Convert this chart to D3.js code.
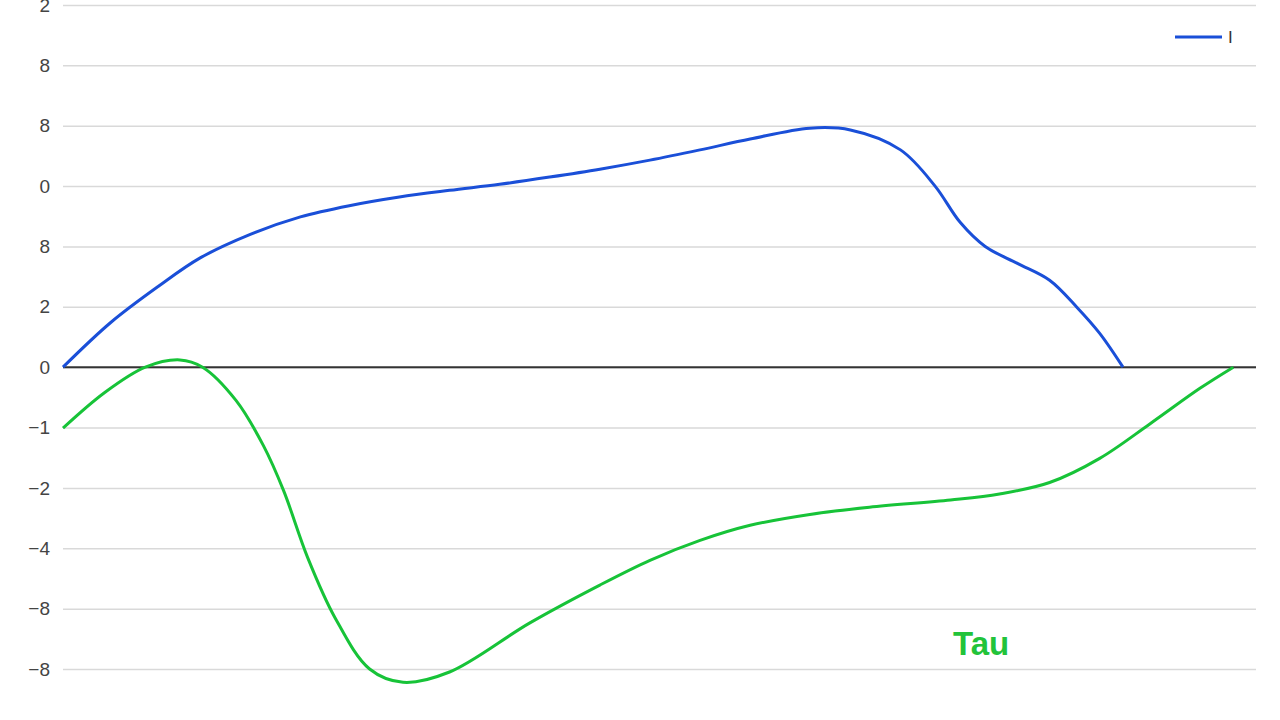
<!DOCTYPE html>
<html>
<head>
<meta charset="utf-8">
<script src="https://cdn.jsdelivr.net/npm/d3@7/dist/d3.min.js"></script>
<style>
  html, body { margin: 0; padding: 0; background: #fff; }
  svg { display: block; font-family: "Liberation Sans", Arial, sans-serif; }
</style>
</head>
<body>
<svg id="chart" width="1280" height="720"></svg>
<script>
// tick positions and the labels printed next to them
const tickValues = [6, 5, 4, 3, 2, 1, 0, -1, -2, -3, -4, -5];
const tickLabels = ["2", "8", "8", "0", "8", "2", "0", "\u22121", "\u22122", "\u22124", "\u22128", "\u22128"];

// blue series ("I")
const blueX = [0, 40, 80, 115, 157, 199, 241, 282, 324, 366, 408, 450, 492, 534, 576, 626, 660, 702, 731, 752, 773, 800, 827, 850, 869, 888.5];
const blueY = [0, 0.74, 1.34, 1.81, 2.20, 2.49, 2.68, 2.82, 2.93, 3.03, 3.15, 3.28, 3.43, 3.60, 3.78, 3.96, 3.93, 3.60, 3.00, 2.40, 2.00, 1.72, 1.44, 0.99, 0.56, 0];

// green series ("Tau")
const greenX = [0, 35, 69, 98, 117, 145, 168, 185, 205, 228, 257, 285, 324, 391, 450, 492, 534, 576, 626, 676, 744, 785, 827, 869, 911, 953, 981];
const greenY = [-1.01, -0.42, 0, 0.12, 0, -0.55, -1.30, -2.05, -3.15, -4.15, -5.00, -5.22, -5.05, -4.24, -3.61, -3.20, -2.87, -2.62, -2.44, -2.32, -2.20, -2.10, -1.91, -1.51, -0.94, -0.35, 0];

const legendLabel = "I";
const tauLabel = "Tau";

const svg = d3.select("#chart");
const W = 1280, H = 720;
const left = 63, right = 1256;

const x = d3.scaleLinear().domain([0, 1000]).range([left, right]);
const y = d3.scaleLinear().domain([-5.845, 6.083]).range([H, 0]);

// grid
const yAxis = d3.axisLeft(y)
  .tickValues(tickValues)
  .tickSize(-(right - left))
  .tickPadding(13)
  .tickFormat((d, i) => tickLabels[i]);

const gAxis = svg.append("g")
  .attr("transform", `translate(${left},0)`)
  .call(yAxis);
gAxis.select(".domain").remove();
gAxis.selectAll(".tick line").attr("stroke", "#d9d9d9").attr("stroke-width", 1.5);
gAxis.selectAll(".tick text")
  .attr("fill", "#444")
  .style("font-size", "19px");

// zero line
svg.append("line")
  .attr("x1", left).attr("x2", right)
  .attr("y1", y(0)).attr("y2", y(0))
  .attr("stroke", "#333").attr("stroke-width", 2);

const line = d3.line()
  .x(d => x(d[0]))
  .y(d => y(d[1]))
  .curve(d3.curveCatmullRom.alpha(0.5));

svg.append("path")
  .datum(d3.zip(greenX, greenY))
  .attr("fill", "none")
  .attr("stroke", "#17c338")
  .attr("stroke-width", 3)
  .attr("d", line);

svg.append("path")
  .datum(d3.zip(blueX, blueY))
  .attr("fill", "none")
  .attr("stroke", "#1a4fd8")
  .attr("stroke-width", 3)
  .attr("d", line);

// legend
svg.append("line")
  .attr("x1", 1175).attr("x2", 1222)
  .attr("y1", 37).attr("y2", 37)
  .attr("stroke", "#1a4fd8").attr("stroke-width", 3);
svg.append("text")
  .attr("x", 1228).attr("y", 43)
  .attr("fill", "#333")
  .style("font-size", "17px")
  .text(legendLabel);

// series label
svg.append("text")
  .attr("x", 953).attr("y", 655)
  .attr("fill", "#22c33a")
  .style("font-size", "33px")
  .style("font-weight", "bold")
  .text(tauLabel);
</script>
</body>
</html>
